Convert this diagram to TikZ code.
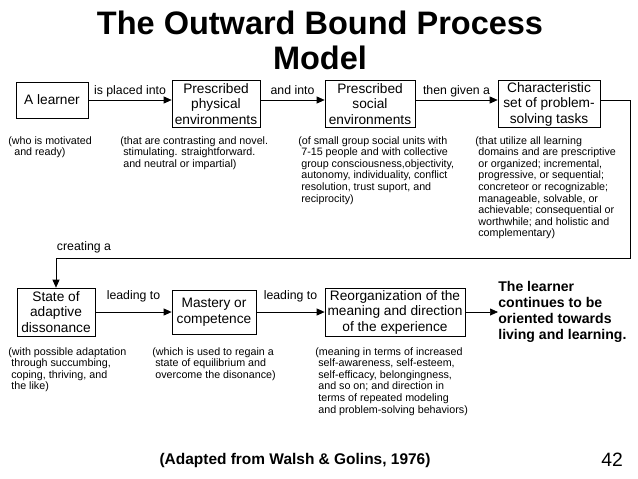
\documentclass[tikz,border=0pt]{standalone}
\usepackage{fontspec}
\setmainfont{Liberation Sans}
\usetikzlibrary{arrows.meta, positioning}

\begin{document}
\begin{tikzpicture}[
    x=0.02cm, y=-0.02cm,
    stagebox/.style={rectangle, draw=black, thin, fill=white, align=center, inner sep=1pt, font=\fontsize{7.8}{8.8}\selectfont},
    notetext/.style={anchor=north west, align=left, inner sep=0pt, font=\fontsize{6.1}{6.6}\selectfont},
    linklabel/.style={font=\fontsize{7}{8}\selectfont, inner sep=1pt, text height=1.6ex, text depth=0.4ex},
    flow/.style={-{Triangle[length=1.6mm, width=1.4mm]}, thin}
]
\useasboundingbox (0,0) rectangle (638,478);

% Title
\node[font=\fontsize{18.5}{20}\selectfont\bfseries, align=center] (title) at (320,40) {The Outward Bound Process\\Model};

% Top row
\node[stagebox, minimum width=72*0.02cm, minimum height=36*0.02cm] (learner) at (52,100) {A learner};
\node[stagebox, minimum width=88*0.02cm, minimum height=47*0.02cm] (phys) at (216,104) {Prescribed\\physical\\environments};
\node[stagebox, minimum width=90*0.02cm, minimum height=47*0.02cm] (soc) at (370,104) {Prescribed\\social\\environments};
\node[stagebox, minimum width=102*0.02cm, minimum height=47*0.02cm] (tasks) at (549,104) {Characteristic\\set of problem-\\solving tasks};

\draw[flow] (learner.east |- 0,100) -- (phys.west |- 0,100) node[linklabel, midway, above] {is placed into};
\draw[flow] (phys.east |- 0,100) -- (soc.west |- 0,100) node[linklabel, midway, above] {and into};
\draw[flow] (soc.east |- 0,100) -- (tasks.west |- 0,100) node[linklabel, midway, above] {then given a};

% Notes of top row
\node[notetext] (n1) at (8,136) {(who is motivated\\\ \ and ready)};
\node[notetext] (n2) at (120,136) {(that are contrasting and novel.\\\ stimulating. straightforward.\\\ and neutral or impartial)};
\node[notetext] (n3) at (298,136) {(of small group social units with\\\ 7-15 people and with collective\\\ group consciousness,objectivity,\\\ autonomy, individuality, conflict\\\ resolution, trust suport, and\\\ reciprocity)};
\node[notetext] (n4) at (475,136) {(that utilize all learning\\\ domains and are prescriptive\\\ or organized; incremental,\\\ progressive, or sequential;\\\ concreteor or recognizable;\\\ manageable, solvable, or\\\ achievable; consequential or\\\ worthwhile; and holistic and\\\ complementary)};

% Bottom row
\node[stagebox, minimum width=78*0.02cm, minimum height=48*0.02cm] (dissonance) at (56,312) {State of\\adaptive\\dissonance};
\node[stagebox, minimum width=84*0.02cm, minimum height=44*0.02cm] (mastery) at (214,312) {Mastery or\\competence};
\node[stagebox, minimum width=140*0.02cm, minimum height=48*0.02cm] (reorg) at (395,312) {Reorganization of the\\meaning and direction\\of the experience};
\node[anchor=west, align=left, inner sep=0pt, font=\fontsize{8}{9.1}\selectfont\bfseries] (outcome) at (498,312) {The learner\\continues to be\\oriented towards\\living and learning.};

\coordinate (turn1) at (630,100);
\coordinate (turn2) at (630,258);
\coordinate (turn3) at (56,258);
\draw[flow] (tasks.east |- 0,100) -- (turn1) -- (turn2) -- (turn3) -- (dissonance.north);
\node[linklabel] (creating) at (84,245) {creating a};

\draw[flow] (dissonance.east) -- (mastery.west) node[linklabel, midway, above=4pt] {leading to};
\draw[flow] (mastery.east) -- (reorg.west) node[linklabel, midway, above=4pt] {leading to};
\draw[flow] (reorg.east) -- (outcome.west);

% Notes of bottom row
\node[notetext] (n5) at (8,347) {(with possible adaptation\\\ through succumbing,\\\ coping, thriving, and\\\ the like)};
\node[notetext] (n6) at (152,347) {(which is used to regain a\\\ state of equilibrium and\\\ overcome the disonance)};
\node[notetext] (n7) at (315,347) {(meaning in terms of increased\\\ self-awareness, self-esteem,\\\ self-efficacy, belongingness,\\\ and so on; and direction in\\\ terms of repeated modeling\\\ and problem-solving behaviors)};

% Footer
\node[font=\fontsize{8.8}{10}\selectfont\bfseries] (source) at (295,460) {(Adapted from Walsh \& Golins, 1976)};
\node[font=\fontsize{11}{12}\selectfont] (page) at (612,460) {42};
\end{tikzpicture}
\end{document}
